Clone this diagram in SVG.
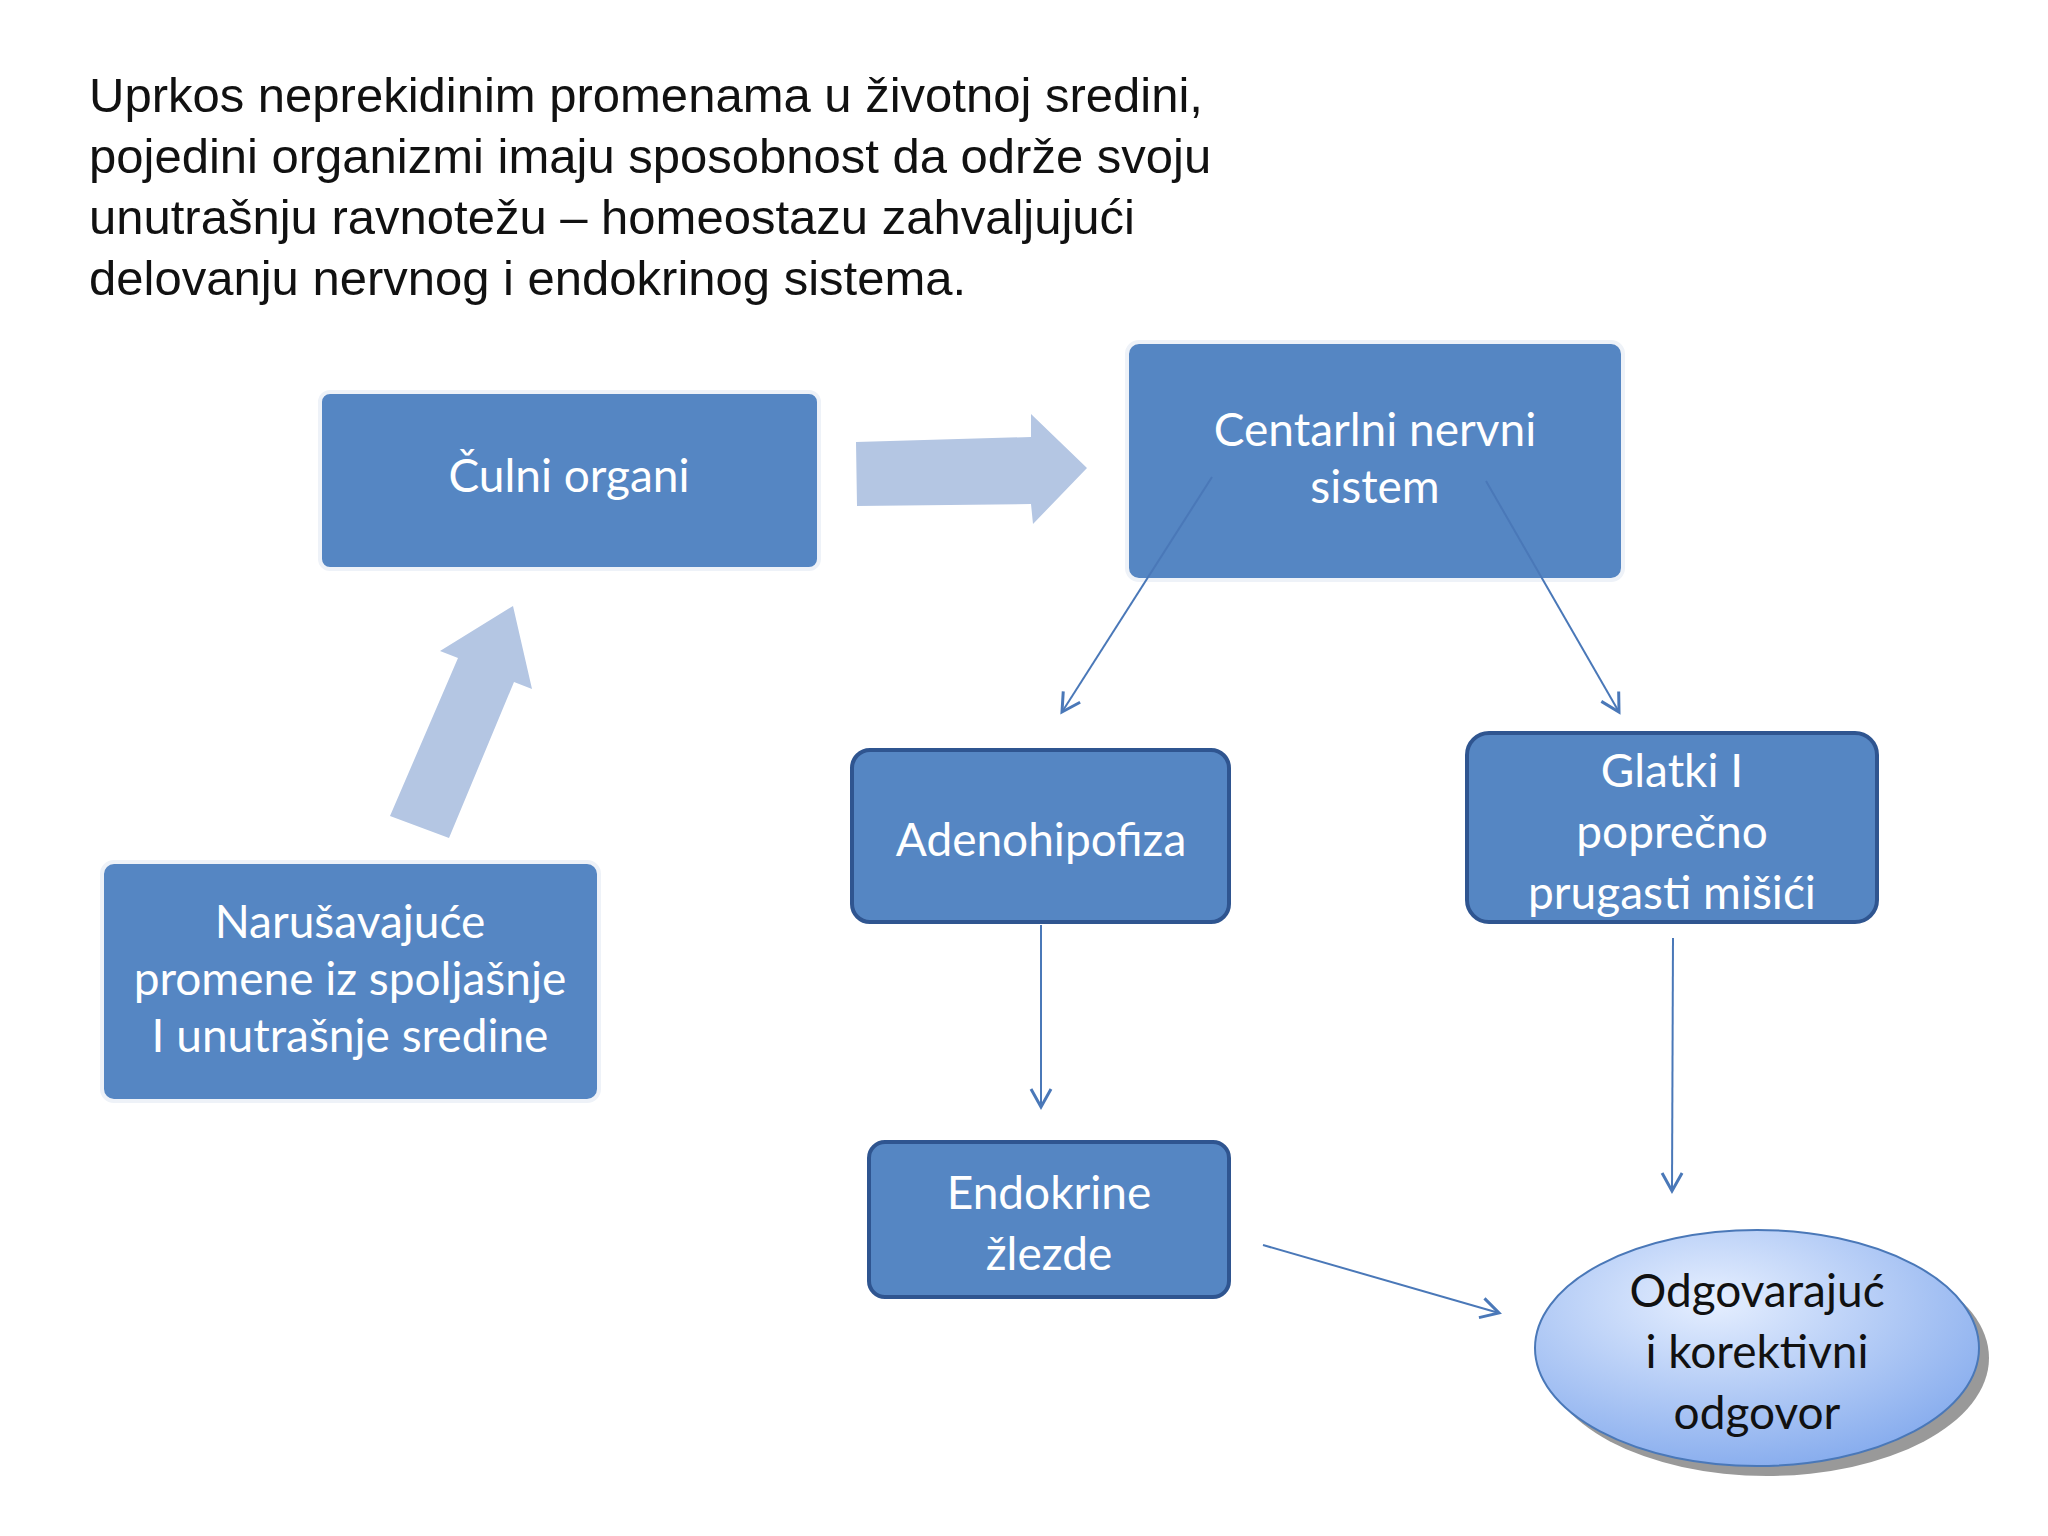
<svg xmlns="http://www.w3.org/2000/svg" width="2048" height="1536" viewBox="0 0 2048 1536">
<style>
.t{font-family:"Liberation Sans",Arial,sans-serif;font-size:49px;fill:#111}
.n{fill:#5586c3;stroke:#eef2f8;stroke-width:4}
.d{fill:#5586c3;stroke:#2f5590;stroke-width:4}
.l{font-family:Lato,"Open Sans",sans-serif;font-size:46px;fill:#fff;text-anchor:middle}
.c{stroke:#4a78b8;stroke-width:2;fill:none;marker-end:url(#a)}
</style>
<defs>
<marker id="a" markerWidth="24" markerHeight="24" refX="20" refY="12" orient="auto" markerUnits="userSpaceOnUse"><path d="M2,2 L20,12 L2,22" fill="none" stroke="#4a78b8" stroke-width="3"/></marker>
<radialGradient id="g" cx="0.4" cy="0.3" r="0.8"><stop offset="0" stop-color="#e6efff"/><stop offset="1" stop-color="#7ea6ec"/></radialGradient>
</defs>
<rect width="2048" height="1536" fill="#fff"/>
<text class="t"><tspan x="89" y="112">Uprkos neprekidinim promenama u životnoj sredini,</tspan><tspan x="89" y="173">pojedini organizmi imaju sposobnost da održe svoju</tspan><tspan x="89" y="234">unutrašnju ravnotežu – homeostazu zahvaljujući</tspan><tspan x="89" y="295">delovanju  nervnog i endokrinog sistema.</tspan></text>
<g id="bigarrows" fill="#b4c6e3">
<polygon points="856,442 1031,437 1031,414 1087,468 1033,524 1031,504 857,506"/>
<polygon points="390,816 458,658 440,651 513,606 532,689 514,682 449,838"/>
</g>
<g id="culni"><rect class="n" x="320" y="392" width="499" height="177" rx="10"/><text class="l" x="569" y="492">Čulni organi</text></g>
<g id="cns"><rect class="n" x="1127" y="342" width="496" height="238" rx="12"/><text class="l" x="1375" y="446">Centarlni nervni</text><text class="l" x="1375" y="503">sistem</text></g>
<g id="adeno"><rect class="d" x="852" y="750" width="377" height="172" rx="18"/><text class="l" x="1041" y="856">Adenohipofiza</text></g>
<g id="glatki"><rect class="d" x="1467" y="733" width="410" height="189" rx="22"/><text class="l" x="1672" y="787">Glatki I</text><text class="l" x="1672" y="848">poprečno</text><text class="l" x="1672" y="909">prugasti mišići</text></g>
<g id="narus"><rect class="n" x="102" y="862" width="497" height="239" rx="12"/><text class="l" x="350" y="938">Narušavajuće</text><text class="l" x="350" y="995">promene iz spoljašnje</text><text class="l" x="350" y="1052">I unutrašnje sredine</text></g>
<g id="endo"><rect class="d" x="869" y="1142" width="360" height="155" rx="16"/><text class="l" x="1049" y="1209">Endokrine</text><text class="l" x="1049" y="1270">žlezde</text></g>
<g id="odg"><ellipse cx="1767" cy="1358" rx="222" ry="118" fill="#999"/><ellipse cx="1757" cy="1348" rx="222" ry="118" fill="url(#g)" stroke="#4a78b8" stroke-width="2"/><text class="l" x="1757" y="1307" fill="#111" style="fill:#111">Odgovarajuć</text><text class="l" x="1757" y="1368" style="fill:#111">i korektivni</text><text class="l" x="1757" y="1429" style="fill:#111">odgovor</text></g>
<g id="connectors">
<path class="c" d="M1212,477 L1062,712"/>
<path class="c" d="M1486,481 L1619,712"/>
<path class="c" d="M1041,925 L1041,1107"/>
<path class="c" d="M1673,938 L1672,1191"/>
<path class="c" d="M1263,1245 L1499,1313"/>
</g>
</svg>
